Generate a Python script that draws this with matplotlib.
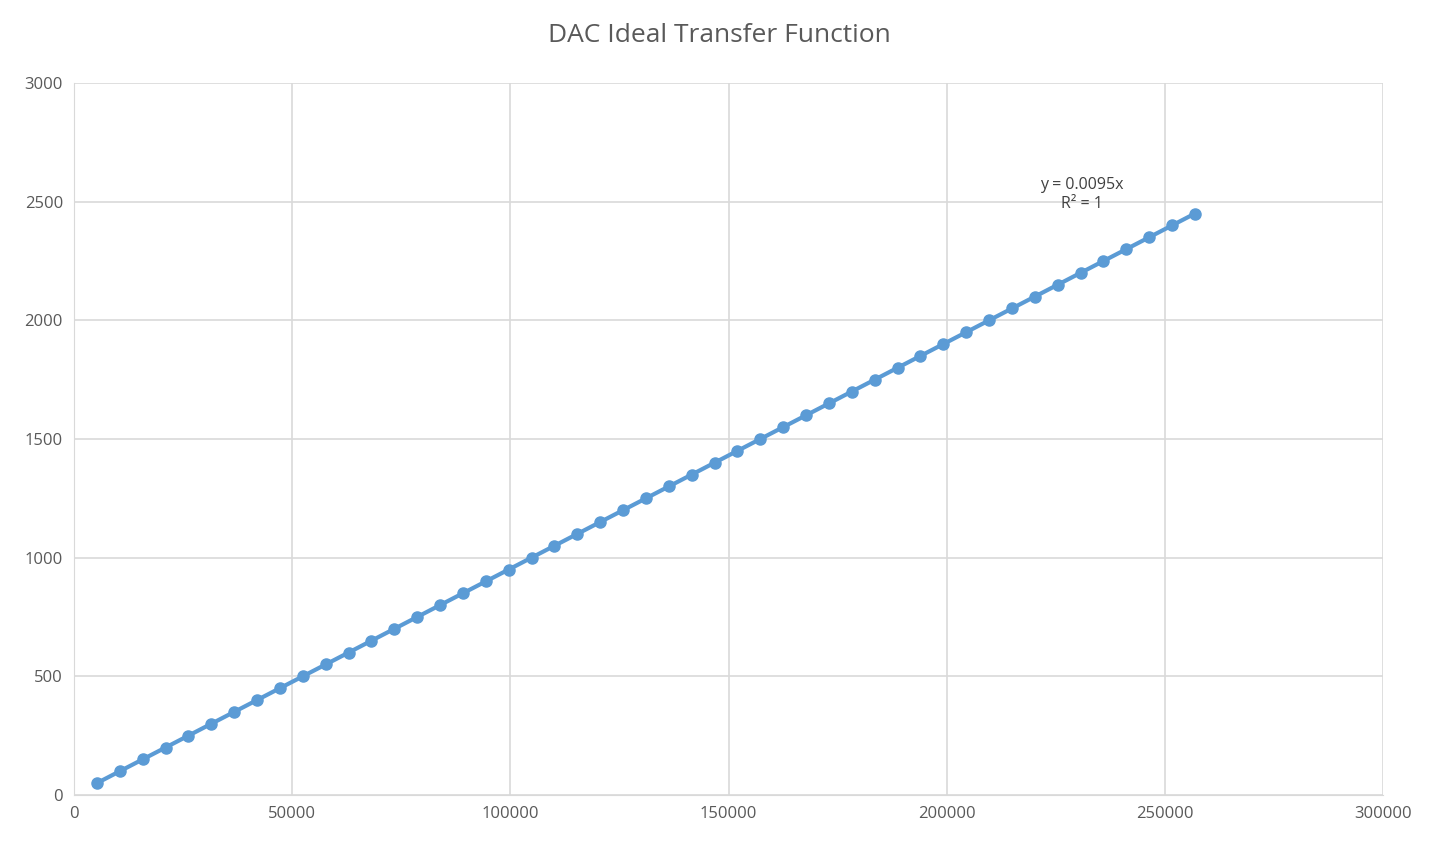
import matplotlib
matplotlib.use("Agg")
import matplotlib.pyplot as plt

codes = [5243,10486,15729,20972,26215,31458,36701,41944,47187,52430,57673,62916,68159,73402,78645,83888,89131,94374,99617,104860,110103,115346,120589,125832,131075,136318,141561,146804,152047,157290,162533,167776,173019,178262,183505,188748,193991,199234,204477,209720,214963,220206,225449,230692,235935,241178,246421,251664,256907]
volts = [50,100,150,200,250,300,350,400,450,500,550,600,650,700,750,800,850,900,950,1000,1050,1100,1150,1200,1250,1300,1350,1400,1450,1500,1550,1600,1650,1700,1750,1800,1850,1900,1950,2000,2050,2100,2150,2200,2250,2300,2350,2400,2450]
xticks = [0,50000,100000,150000,200000,250000,300000]
yticks = [0,500,1000,1500,2000,2500,3000]

plt.rcParams['font.family'] = ['Open Sans', 'DejaVu Sans']
fig = plt.figure(figsize=(14.39, 8.46), dpi=100)
ax = fig.add_axes([74/1439, 1-795/846, (1383-74)/1439, (795-83)/846])
ax.plot(codes, volts, color='#5b9bd5', lw=3, marker='o', ms=8, zorder=3)
ax.set_xlim(0, 300000); ax.set_ylim(0, 3000)
ax.set_xticks(xticks); ax.set_yticks(yticks)
ax.grid(True, color='#d9d9d9', lw=1.2)
for s in ['top', 'right']:
    ax.spines[s].set_visible(False)
for s in ['left', 'bottom']:
    ax.spines[s].set_color('#d9d9d9')
ax.tick_params(length=0, labelsize=12, colors='#595959', pad=8)
ax.text(231000, 2530, "y = 0.0095x\nR² = 1", ha='center', va='center', fontsize=11.5, color='#404040', linespacing=1.3)
fig.text(0.5, 1-35/846, "DAC Ideal Transfer Function", ha='center', va='center', fontsize=19, color='#595959')
fig.savefig("out.png", dpi=100, facecolor='white')
